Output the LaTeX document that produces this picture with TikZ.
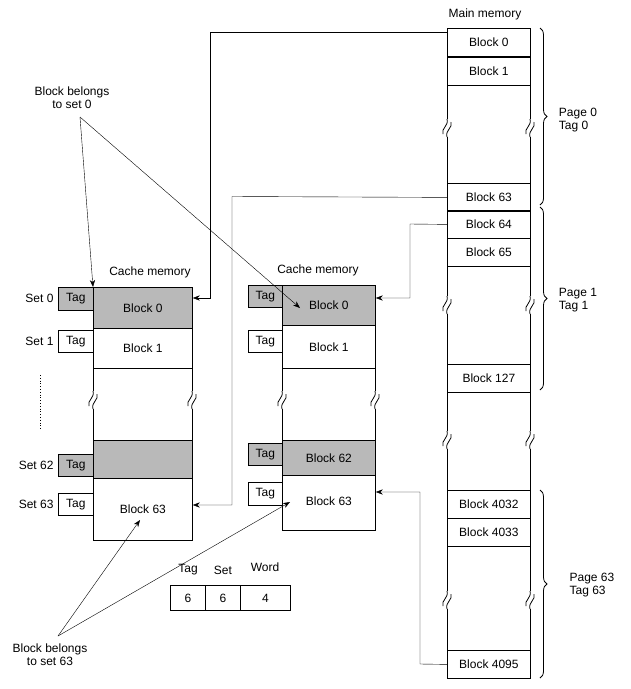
\documentclass[tikz,border=0pt]{standalone}
\usepackage{fontspec}
\setmainfont{Liberation Sans}
\usetikzlibrary{decorations.pathreplacing,arrows.meta}
\begin{document}
\begin{tikzpicture}[x=1pt,y=-1pt,font=\fontsize{12}{13}\selectfont,
  cell/.style={draw,thick,minimum width=#1,inner sep=0pt,anchor=north west},
  gr/.style={fill=gray!55},
  conn/.style={draw,-{Stealth[length=7pt]}},
  brc/.style={decorate,decoration={brace,amplitude=7pt},thick}]
\useasboundingbox (0,0) rectangle (631,689);
\newcommand{\brk}[2]{%
  \fill[white] (#1-5,#2-9) rectangle (#1+5,#2+9);
  \draw[thick] (#1-4,#2+6) .. controls (#1-6,#2) and (#1+2,#2-2) .. (#1,#2-9);
  \draw[thick] (#1,#2+9) .. controls (#1-2,#2+2) and (#1+6,#2) .. (#1+4,#2-6);}
% Main memory
\node at (485,14) {Main memory};
\draw[thick] (447,28) rectangle (530,678);
\foreach \y/\t/\n in {28/Block 0/m0,57/Block 1/m1,183/Block 63/m63,210/Block 64/m64,238/Block 65/m65,364/Block 127/m127,490/Block 4032/m4032,518/Block 4033/m4033,650/Block 4095/m4095}
  \node[cell=83pt,minimum height=28pt] (\n) at (447,\y) {\t};
\foreach \y in {128,305,440,600}{\brk{447}{\y}\brk{530}{\y}}
% braces
\draw[brc] (540,28) -- (540,205);
\node[align=left] at (578,120) {Page 0\\Tag 0};
\draw[brc] (540,207) -- (540,390);
\node[align=left] at (578,300) {Page 1\\Tag 1};
\draw[brc] (540,490) -- (540,678);
\node[align=left] at (592,585) {Page 63\\Tag 63};
% Left cache
\node at (150,272) {Cache memory};
\draw[thick] (93,287) rectangle (192,540);
\node[cell=99pt,minimum height=41pt,gr] (L0) at (93,287) {Block 0};
\node[cell=99pt,minimum height=40pt] (L1) at (93,328) {Block 1};
\node[cell=99pt,minimum height=38pt,gr] (L62) at (93,440) {};
\node[cell=99pt,minimum height=62pt] (L63) at (93,478) {\raisebox{-8pt}{Block 63}};
\node[cell=35pt,minimum height=23pt,gr] (LT0) at (58,287) {Tag};
\node[cell=35pt,minimum height=22pt] (LT1) at (58,330) {Tag};
\node[cell=35pt,minimum height=22pt,gr] (LT62) at (58,454) {Tag};
\node[cell=35pt,minimum height=22pt] (LT63) at (58,493) {Tag};
\brk{93}{400}\brk{192}{400}
\node[anchor=east] at (57,298) {Set 0};
\node[anchor=east] at (57,341) {Set 1};
\node[anchor=east] at (57,465) {Set 62};
\node[anchor=east] at (57,504) {Set 63};
\draw[dotted,thick] (40,375) -- (40,430);
% Middle cache
\node at (318,270) {Cache memory};
\draw[thick] (282,285) rectangle (375,530);
\node[cell=93pt,minimum height=40pt,gr] (M0) at (282,285) {Block 0};
\node[cell=93pt,minimum height=43pt] (M1) at (282,325) {Block 1};
\node[cell=93pt,minimum height=35pt,gr] (M62) at (282,440) {Block 62};
\node[cell=93pt,minimum height=55pt] (M63) at (282,475) {\raisebox{3pt}{Block 63}};
\node[cell=34pt,minimum height=22pt,gr] (MT0) at (248,285) {Tag};
\node[cell=34pt,minimum height=22pt] (MT1) at (248,330) {Tag};
\node[cell=34pt,minimum height=22pt,gr] (MT62) at (248,443) {Tag};
\node[cell=34pt,minimum height=23pt] (MT63) at (248,482) {Tag};
\brk{282}{400}\brk{375}{400}
% address
\node[cell=35pt,minimum height=25pt] (aT) at (170,585) {6};
\node[cell=35pt,minimum height=25pt] (aS) at (205,585) {6};
\node[cell=50pt,minimum height=25pt] (aW) at (240,585) {4};
\node at (188,570) {Tag}; \node at (223,570) {Set}; \node at (265,567) {Word};
% connectors
\coordinate (c0a) at (210,32); \coordinate (c0b) at (210,298);
\draw[conn] (m0.west |- 0,32) -- (c0a) -- (c0b) -- (L0.east |- c0b);
\draw[conn] (m63.west) -- (232,196.5) -- (232,505) -- (L63.east |- 0,505);
\draw[conn] (m64.west) -- (410,224) -- (410,298) -- (M0.east |- 0,298);
\draw[conn] (m4095.west) -- (420,664) -- (420,492) -- (M63.east |- 0,492);
% annotations
\node[align=center] (n0) at (72,98) {Block belongs\\to set 0};
\draw[conn] (80,117) -- (L0.north west);
\draw[conn] (80,117) -- (300,308);
\node[align=center] (n63) at (50,655) {Block belongs\\to set 63};
\draw[conn] (58,636) -- (140,520);
\draw[conn] (58,636) -- (290,502);
\end{tikzpicture}
\end{document}
